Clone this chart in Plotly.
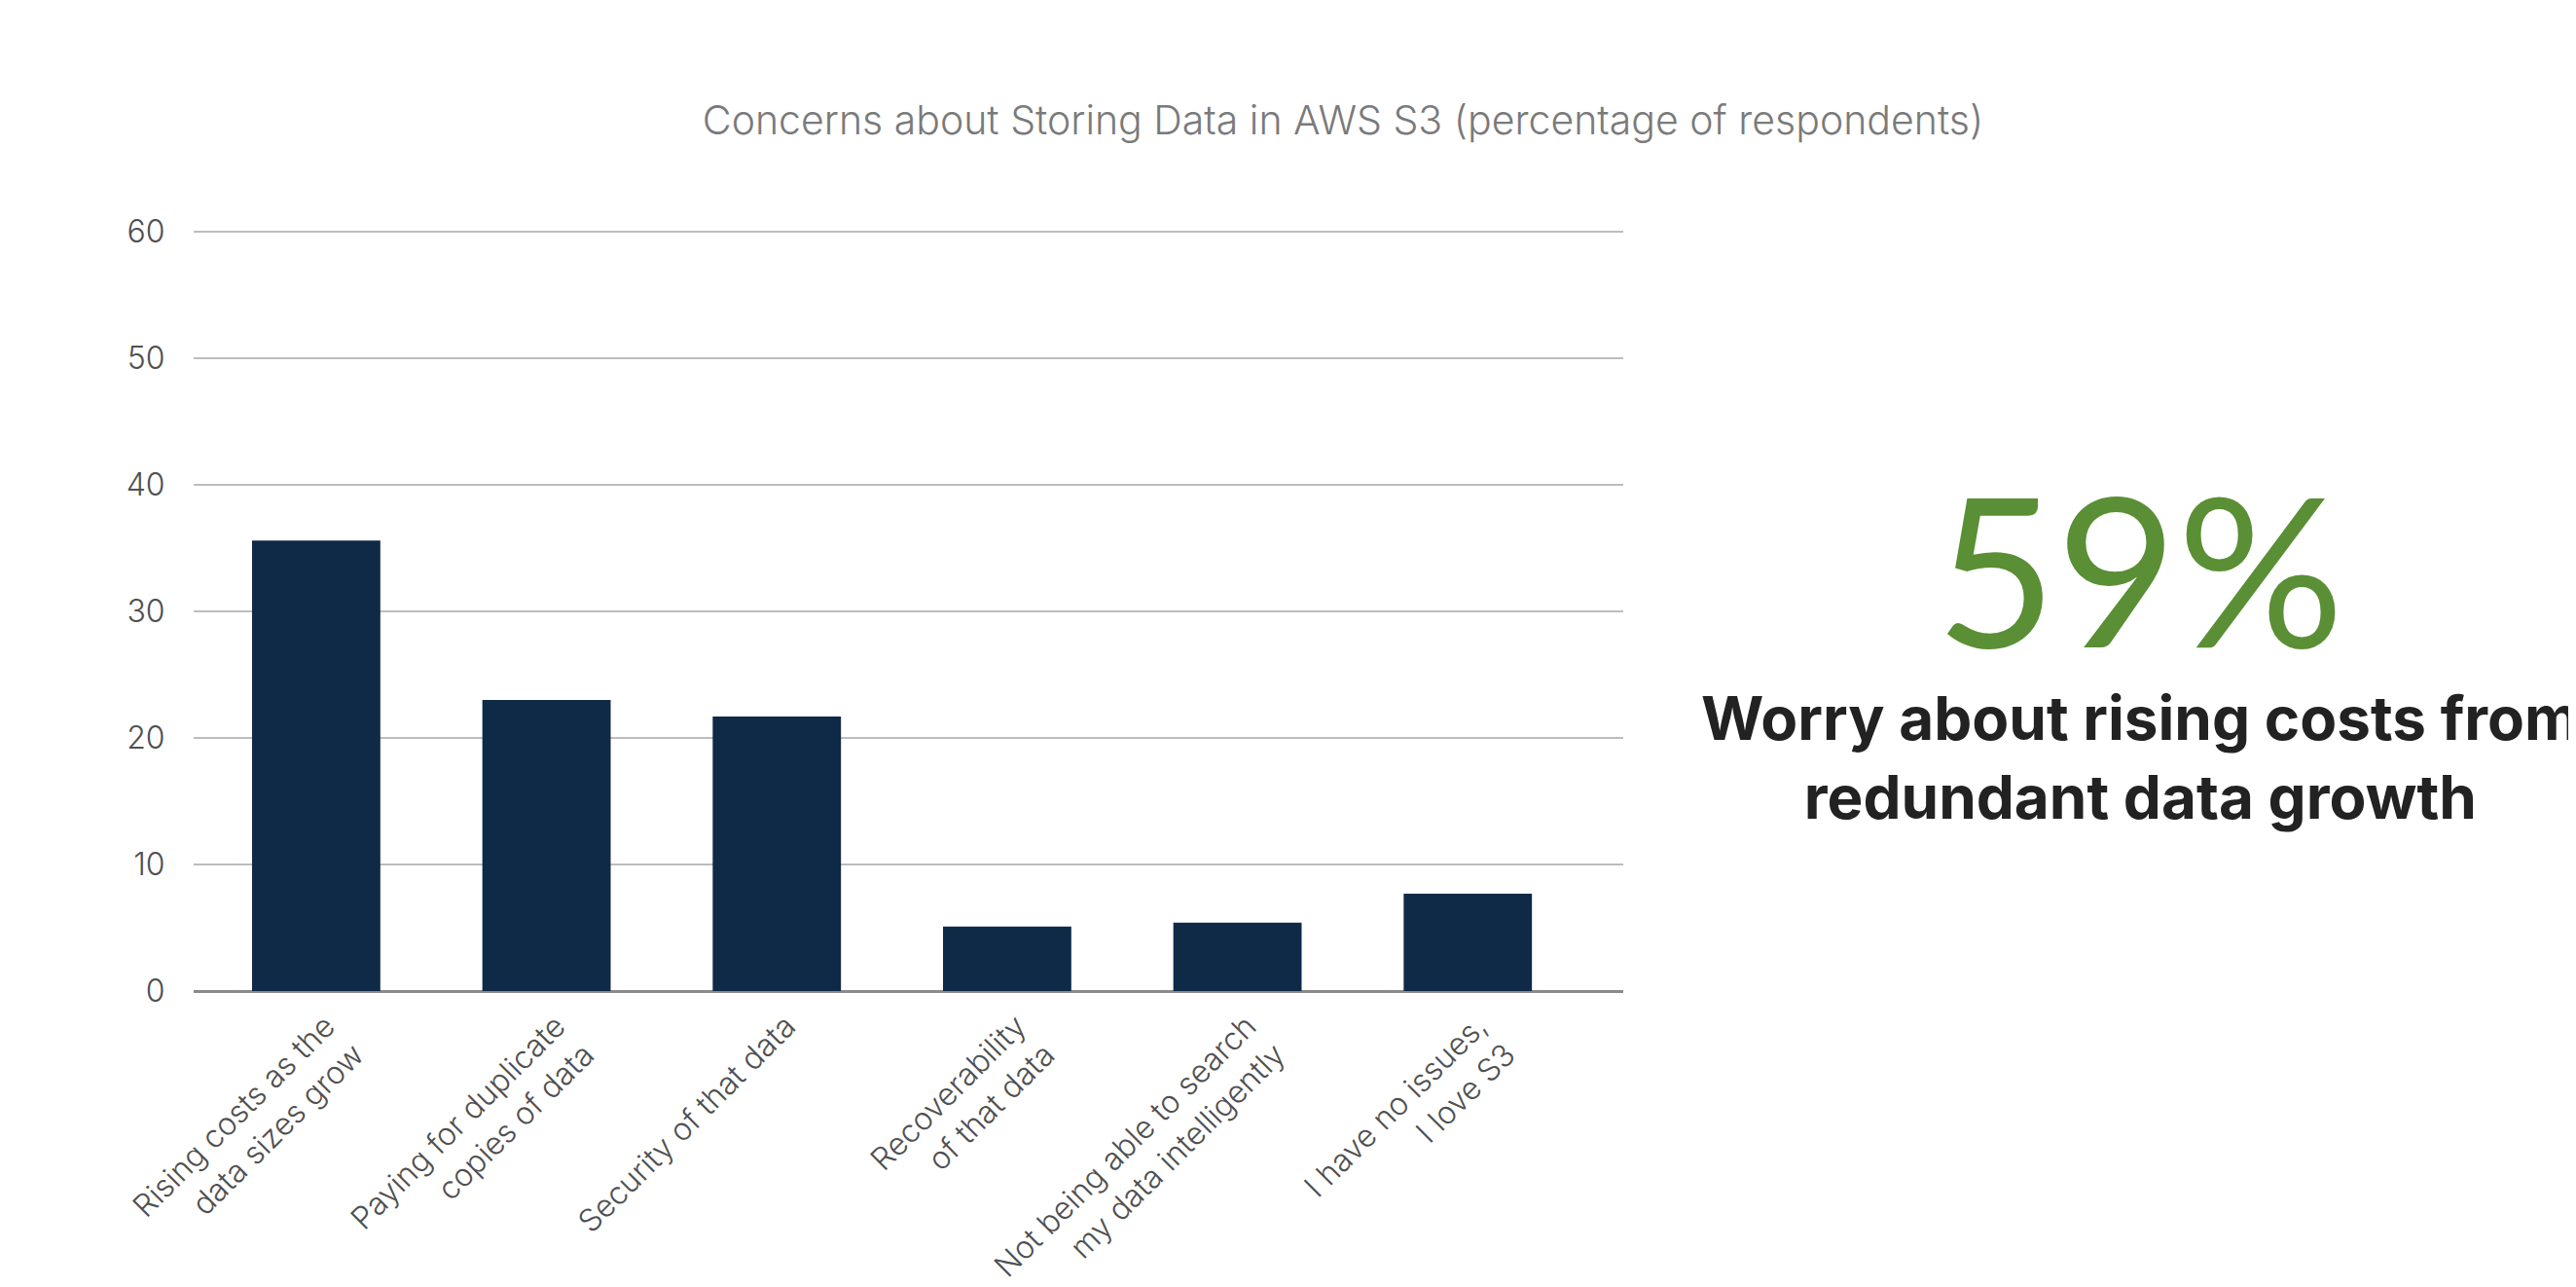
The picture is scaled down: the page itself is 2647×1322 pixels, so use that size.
import plotly.graph_objects as go

categories = [
    "Rising costs as the<br>data sizes grow",
    "Paying for duplicate<br>copies of data",
    "Security of that data",
    "Recoverability<br>of that data",
    "Not being able to search<br>my data intelligently",
    "I have no issues,<br>I love S3",
]
values = [35.6, 23.0, 21.7, 5.1, 5.4, 7.7]
y_ticks = [0, 10, 20, 30, 40, 50, 60]

headline_value = "59%"
headline_text = "Worry about rising costs from<br>redundant data growth"
chart_title = "Concerns about Storing Data in AWS S3 (percentage of respondents)"

W, H = 2647, 1322
# page body has an 8px margin, so everything is shifted up/left by 8
OFF = 8

fig = go.Figure()
fig.add_trace(go.Bar(
    x=list(range(len(categories))),
    y=values,
    width=0.557,
    marker=dict(color="#0F2A47", line=dict(width=0)),
    hoverinfo="skip",
))

fig.update_layout(
    width=W,
    height=H,
    # 13 px per unit, range goes a bit over 60 so the top gridline is drawn
    margin=dict(l=199 - OFF, r=979 + OFF, t=238 - 13 - OFF, b=304 + OFF, pad=0),
    paper_bgcolor="white",
    plot_bgcolor="white",
    showlegend=False,
    font=dict(family="Inter", color="#555555"),
    title=dict(
        text=chart_title,
        x=(1380 - OFF) / W,
        xanchor="center",
        y=1 - (124 - OFF) / H,
        yanchor="middle",
        font=dict(family="Inter", size=41, color="#7a7a7a", weight=300),
    ),
    xaxis=dict(
        tickmode="array",
        tickvals=list(range(len(categories))),
        ticktext=categories,
        tickangle=-45,
        range=[-0.532, 5.675],
        showgrid=False,
        showline=False,
        zeroline=False,
        ticks="",
        automargin=False,
        ticklabelstandoff=10,
        ticklabelshift=10,
        tickfont=dict(family="Inter", size=32, color="#505050", weight=300),
    ),
    yaxis=dict(
        range=[0, 61],
        tickmode="array",
        tickvals=y_ticks,
        showgrid=True,
        gridcolor="#bdbdbd",
        gridwidth=2,
        zeroline=True,
        zerolinecolor="#8a8a8a",
        zerolinewidth=3,
        showline=False,
        automargin=False,
        ticks="outside",
        ticklen=22,
        tickcolor="rgba(0,0,0,0)",
        tickfont=dict(family="Inter", size=32, color="#505050", weight=300),
    ),
)

fig.add_annotation(
    x=(2199 - 199) / 1469,
    y=(1018 - 582) / 793,
    xref="paper",
    yref="paper",
    text=headline_value,
    showarrow=False,
    xanchor="center",
    yanchor="middle",
    font=dict(family="Lato", size=214, color="#5a8f35", weight=400),
)
fig.add_annotation(
    x=(2199 - 199) / 1469,
    y=(1018 - 778) / 793,
    xref="paper",
    yref="paper",
    text=headline_text,
    showarrow=False,
    xanchor="center",
    yanchor="middle",
    align="center",
    font=dict(family="Inter", size=62, color="#222222", weight=700),
)

fig.write_html("out.html")
